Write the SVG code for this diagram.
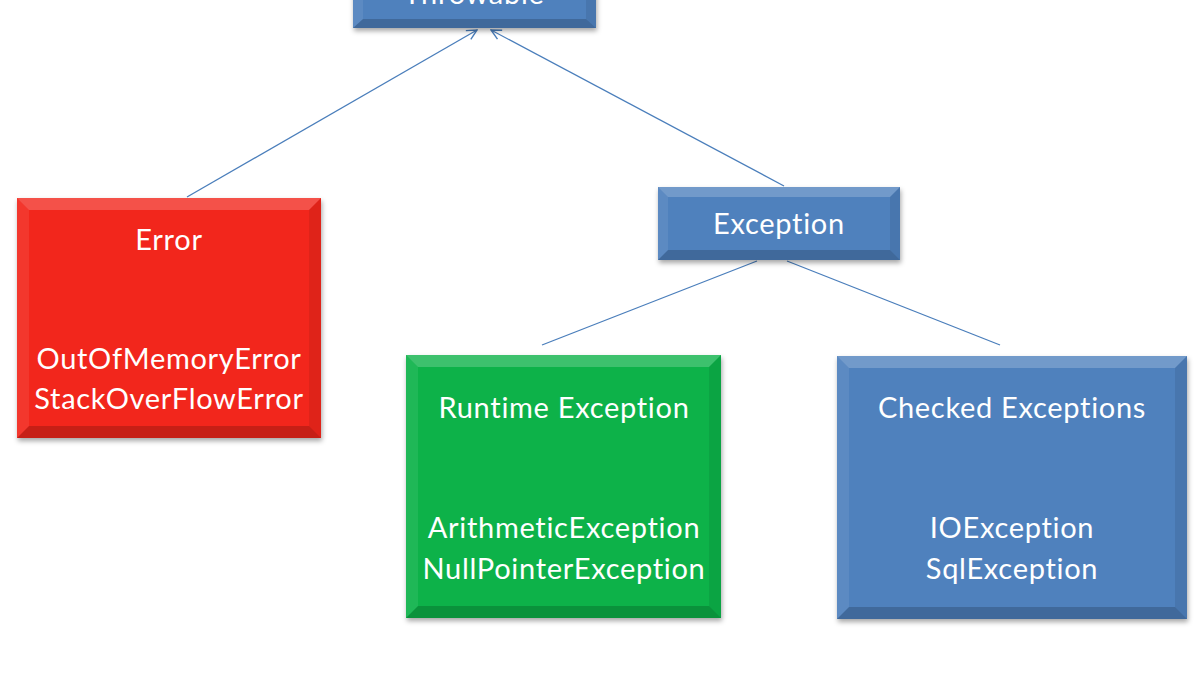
<svg xmlns="http://www.w3.org/2000/svg" width="1200" height="675" viewBox="0 0 1200 675">
<defs>
<filter id="sh" x="-10%" y="-10%" width="120%" height="125%">
<feDropShadow dx="1" dy="3" stdDeviation="2.5" flood-color="#000" flood-opacity="0.35"/>
</filter>
<marker id="ah" viewBox="0 0 12 12" refX="11" refY="6" markerWidth="12" markerHeight="12" markerUnits="userSpaceOnUse" orient="auto">
<path d="M1,1 L11,6 L1,11" fill="none" stroke="#4a7ebb" stroke-width="1.4"/>
</marker>
</defs>
<style>
.lbl{font-family:Lato,"Open Sans","Liberation Sans",sans-serif;font-size:29px;letter-spacing:0.7px;fill:#ffffff;text-anchor:middle;font-variant-ligatures:none}
.conn{stroke:#4a7ebb;stroke-width:1.3;fill:none}
.bt{fill:#ffffff;fill-opacity:0.2}
.bl{fill:#ffffff;fill-opacity:0.08}
.bb{fill:#000000;fill-opacity:0.18}
.br{fill:#000000;fill-opacity:0.08}
</style>
<rect width="1200" height="675" fill="#ffffff"/>
<g id="connectors">
<line class="conn" x1="187" y1="197" x2="477" y2="30" marker-end="url(#ah)"/>
<line class="conn" x1="784" y1="186" x2="491" y2="30" marker-end="url(#ah)"/>
<line class="conn" x1="757" y1="261" x2="542" y2="345"/>
<line class="conn" x1="787" y1="261" x2="1000" y2="345"/>
</g>
<g id="throwable">
<rect x="353" y="-40" width="243" height="68" fill="#4f81bd" filter="url(#sh)"/>
<polygon class="bb" points="353,28 596,28 586,19 363,19"/>
<polygon class="bl" points="353,-40 363,-30 363,19 353,28"/>
<polygon class="br" points="596,-40 586,-30 586,19 596,28"/>
<text class="lbl" x="474" y="4">Throwable</text>
</g>
<g id="error">
<rect x="17" y="198" width="304" height="240" fill="#f2281e" filter="url(#sh)"/>
<polygon class="bt" points="17,198 321,198 309,210 29,210"/>
<polygon class="bb" points="17,438 321,438 309,426 29,426"/>
<polygon class="bl" points="17,198 29,210 29,426 17,438"/>
<polygon class="br" points="321,198 309,210 309,426 321,438"/>
<text class="lbl" x="169" y="250">Error</text>
<text class="lbl" x="169" y="369">OutOfMemoryError</text>
<text class="lbl" x="169" y="409">StackOverFlowError</text>
</g>
<g id="exception">
<rect x="658" y="187" width="242" height="73" fill="#4f81bd" filter="url(#sh)"/>
<polygon class="bt" points="658,187 900,187 890,197 668,197"/>
<polygon class="bb" points="658,260 900,260 890,250 668,250"/>
<polygon class="bl" points="658,187 668,197 668,250 658,260"/>
<polygon class="br" points="900,187 890,197 890,250 900,260"/>
<text class="lbl" x="779" y="234">Exception</text>
</g>
<g id="runtime">
<rect x="406" y="355" width="315" height="263" fill="#10b24a" filter="url(#sh)"/>
<polygon class="bt" points="406,355 721,355 709,367 418,367"/>
<polygon class="bb" points="406,618 721,618 709,606 418,606"/>
<polygon class="bl" points="406,355 418,367 418,606 406,618"/>
<polygon class="br" points="721,355 709,367 709,606 721,618"/>
<text class="lbl" x="564" y="418">Runtime Exception</text>
<text class="lbl" x="564" y="538">ArithmeticException</text>
<text class="lbl" x="564" y="579">NullPointerException</text>
</g>
<g id="checked">
<rect x="837" y="356" width="350" height="263" fill="#4f81bd" filter="url(#sh)"/>
<polygon class="bt" points="837,356 1187,356 1175,368 849,368"/>
<polygon class="bb" points="837,619 1187,619 1175,607 849,607"/>
<polygon class="bl" points="837,356 849,368 849,607 837,619"/>
<polygon class="br" points="1187,356 1175,368 1175,607 1187,619"/>
<text class="lbl" x="1012" y="418">Checked Exceptions</text>
<text class="lbl" x="1012" y="538">IOException</text>
<text class="lbl" x="1012" y="579">SqlException</text>
</g>
</svg>
